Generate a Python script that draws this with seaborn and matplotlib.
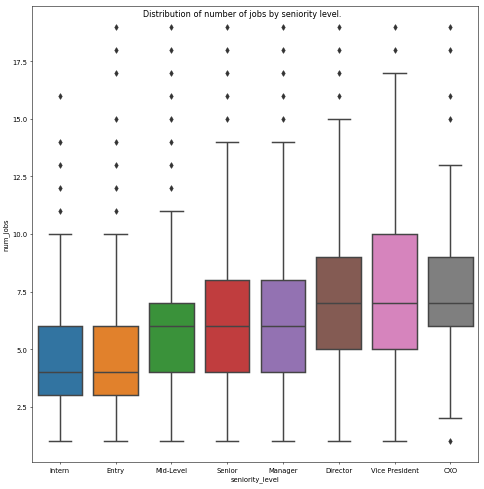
import numpy as np
import pandas as pd
import matplotlib
matplotlib.use('Agg')
import matplotlib.pyplot as plt
import seaborn as sns

# categories on the x axis
seniority_levels = ['Intern', 'Entry', 'Mid-Level', 'Senior', 'Manager',
                    'Director', 'Vice President', 'CXO']

# possible values of num_jobs
num_jobs_values = [1, 2, 3, 4, 5, 6, 7, 8, 9, 10, 11, 12, 13, 14, 15, 16, 17, 18, 19]

# how many postings have each num_jobs value, per seniority level
intern_counts = [3, 8, 12, 12, 9, 8, 4, 3, 2, 1, 1, 1, 1, 1, 0, 1, 0, 0, 0]
entry_counts = [3, 8, 12, 14, 8, 9, 3, 3, 2, 1, 1, 1, 1, 1, 1, 0, 1, 1, 1]
mid_level_counts = [2, 4, 8, 10, 10, 12, 11, 4, 3, 2, 1, 1, 1, 1, 1, 1, 1, 1, 1]
senior_counts = [2, 4, 8, 10, 10, 10, 8, 10, 4, 3, 3, 2, 1, 1, 1, 1, 1, 1, 1]
manager_counts = [3, 5, 8, 11, 9, 10, 8, 10, 4, 3, 2, 1, 1, 1, 1, 1, 1, 1, 1]
director_counts = [1, 2, 4, 6, 10, 9, 10, 8, 10, 4, 4, 3, 2, 1, 1, 1, 1, 1, 1]
vp_counts = [1, 2, 3, 5, 8, 7, 10, 4, 6, 7, 4, 3, 2, 2, 1, 1, 1, 1, 1]
cxo_counts = [1, 1, 1, 2, 4, 8, 9, 6, 6, 3, 2, 1, 1, 0, 1, 1, 0, 1, 1]

all_counts = [intern_counts, entry_counts, mid_level_counts, senior_counts,
              manager_counts, director_counts, vp_counts, cxo_counts]

frames = []
for level, counts in zip(seniority_levels, all_counts):
    vals = np.repeat(num_jobs_values, counts)
    frames.append(pd.DataFrame({'seniority_level': level, 'num_jobs': vals}))
df = pd.concat(frames, ignore_index=True)

fig = plt.figure(figsize=(10, 10.12), dpi=48.4)
ax = fig.add_axes([0.066, 0.055, 0.922, 0.931])

sns.boxplot(data=df, x='seniority_level', y='num_jobs', hue='seniority_level',
            order=seniority_levels, hue_order=seniority_levels,
            palette='tab10', legend=False, ax=ax,
            linewidth=2.2, linecolor='#454545',
            flierprops={'marker': 'd', 'markerfacecolor': '#333333',
                        'markeredgecolor': '#333333', 'markersize': 6})

ax.set_yticks([2.5, 5.0, 7.5, 10.0, 12.5, 15.0, 17.5])
fig.suptitle('Distribution of number of jobs by seniority level.', y=0.98)

plt.savefig('out.png', dpi=48.4)
